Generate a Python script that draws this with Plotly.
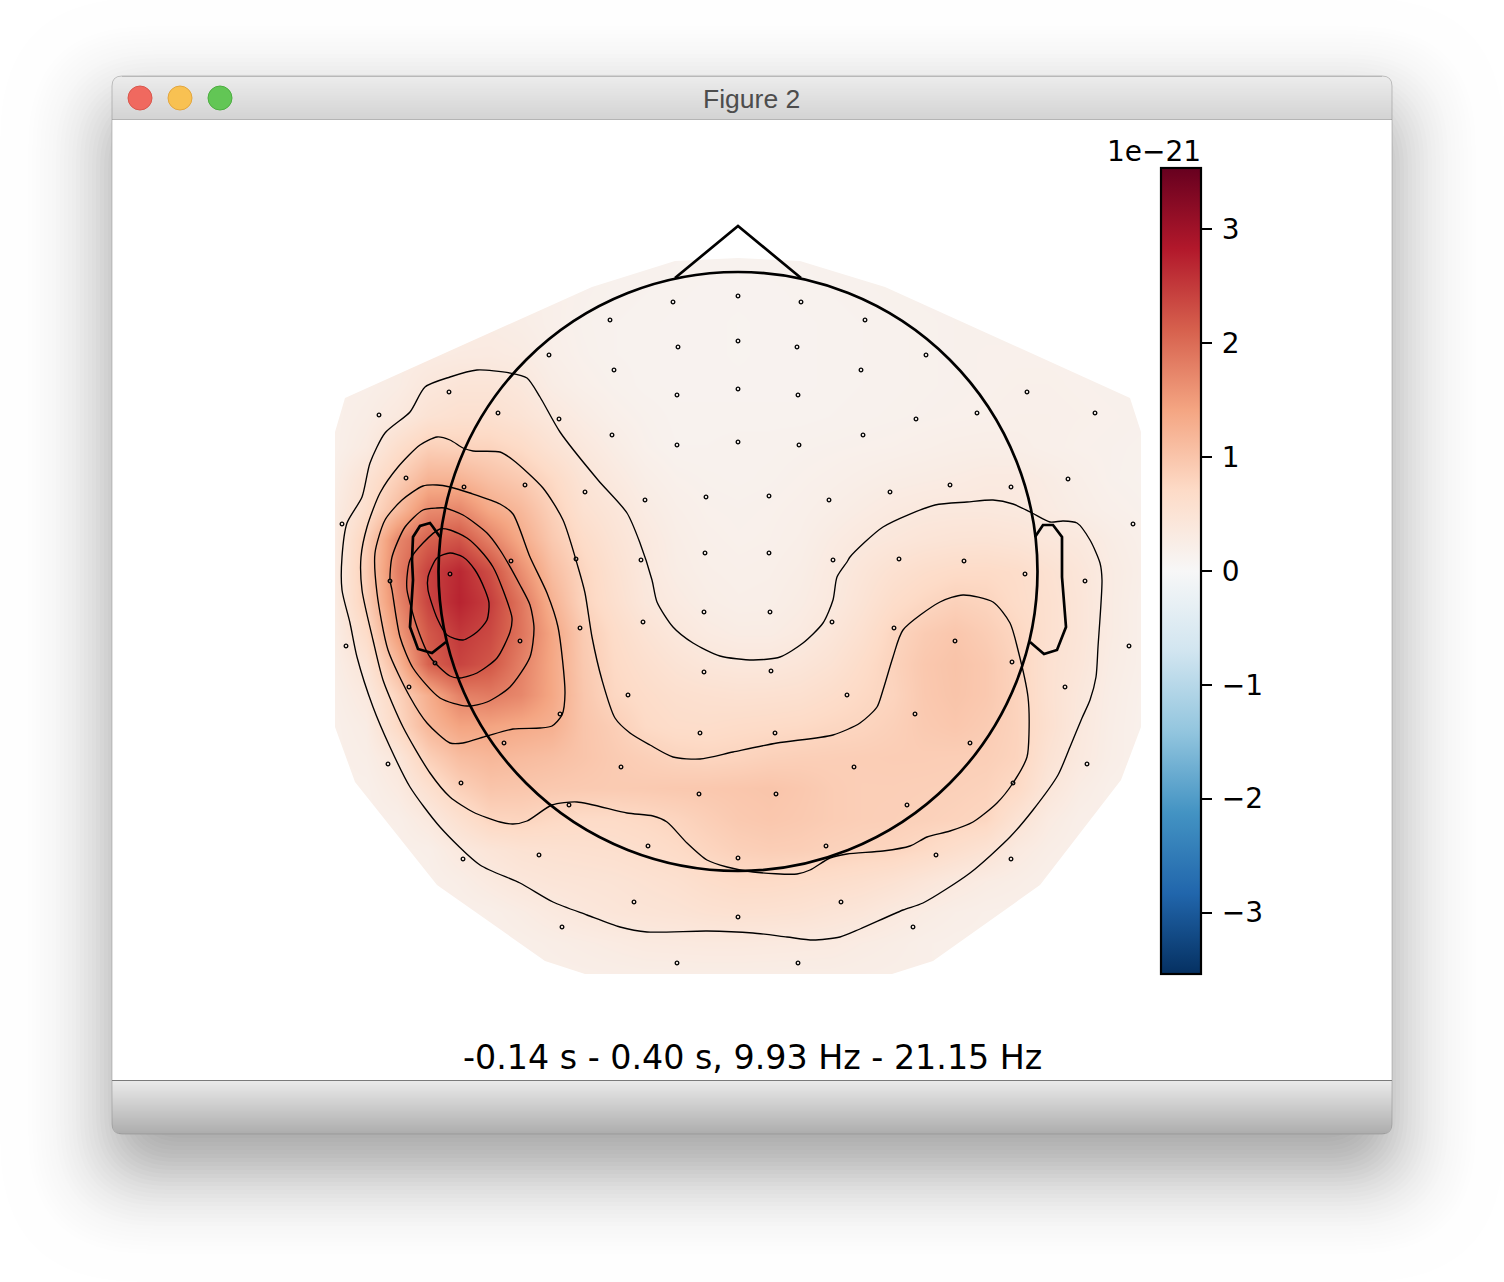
import math
import plotly.graph_objects as go

W, H = 1504, 1282

# ---- field values (units of 1e-21) on a regular grid
grid_x = [335,366,397,428,459,490,521,552,583,614,645,676,707,738,769,800,831,862,893,924,955,986,1017,1048,1079,1110,1141]
grid_y = [168,199,230,261,292,323,354,385,416,447,478,509,540,571,602,633,664,695,726,757,788,819,850,881,912,943,974]
z_rows = [
[.2,.2,.2,.2,.2,.2,.2,.2,.18,.16,.15,.14,.13,.13,.13,.14,.15,.16,.17,.17,.17,.17,.17,.17,.17,.17,.17],
[.2,.2,.2,.2,.2,.2,.2,.2,.18,.16,.15,.14,.13,.13,.13,.14,.15,.16,.17,.17,.17,.17,.17,.17,.17,.17,.17],
[.2,.2,.2,.2,.2,.2,.2,.2,.18,.16,.15,.14,.13,.13,.13,.14,.15,.16,.17,.17,.17,.17,.17,.17,.17,.17,.17],
[.2,.2,.22,.22,.22,.22,.22,.2,.18,.16,.15,.14,.13,.13,.13,.14,.15,.16,.17,.17,.17,.17,.17,.17,.17,.17,.17],
[.22,.22,.24,.24,.24,.24,.23,.2,.17,.15,.14,.13,.12,.12,.12,.13,.14,.15,.16,.17,.17,.17,.17,.17,.17,.17,.17],
[.23,.24,.26,.27,.28,.28,.25,.2,.16,.14,.13,.12,.12,.11,.12,.12,.13,.14,.15,.16,.17,.17,.17,.17,.17,.17,.17],
[.22,.25,.27,.3,.32,.33,.3,.22,.17,.14,.13,.12,.12,.11,.12,.12,.13,.14,.15,.16,.17,.18,.18,.18,.18,.17,.17],
[.2,.22,.28,.4,.47,.47,.4,.27,.2,.16,.13,.12,.12,.12,.12,.12,.13,.14,.15,.16,.17,.18,.19,.19,.18,.17,.17],
[.2,.26,.36,.52,.58,.58,.5,.38,.28,.2,.16,.13,.13,.13,.13,.13,.14,.15,.16,.17,.18,.19,.2,.2,.19,.18,.17],
[.2,.32,.62,.86,.82,.8,.7,.52,.38,.27,.18,.14,.14,.15,.15,.16,.17,.18,.19,.21,.23,.24,.23,.2,.18,.17,.16],
[.25,.52,.86,1.22,1.22,1.05,.92,.72,.48,.35,.24,.18,.16,.15,.16,.18,.2,.23,.26,.28,.3,.33,.33,.28,.22,.17,.15],
[.3,.62,1.1,1.68,1.72,1.35,1.15,.84,.56,.44,.3,.22,.18,.17,.18,.2,.24,.29,.34,.37,.38,.38,.36,.31,.25,.2,.17],
[.3,.85,1.72,2.12,2.25,1.8,1.35,.95,.68,.5,.36,.25,.2,.18,.19,.22,.3,.37,.42,.47,.5,.51,.48,.42,.37,.27,.2],
[.3,.9,1.8,2.42,2.68,2.3,1.65,1.1,.78,.56,.38,.27,.22,.2,.21,.25,.34,.45,.56,.64,.69,.7,.66,.55,.44,.3,.22],
[.3,.86,1.7,2.4,2.72,2.46,1.9,1.25,.8,.6,.41,.32,.25,.22,.23,.28,.36,.5,.66,.76,.84,.8,.68,.58,.46,.3,.2],
[.28,.68,1.5,2.2,2.52,2.35,1.92,1.4,.92,.68,.52,.4,.32,.28,.28,.33,.44,.58,.78,.91,.98,.89,.76,.58,.46,.3,.2],
[.25,.48,1.15,2.1,2.4,2.22,1.8,1.38,.95,.72,.6,.5,.43,.4,.4,.45,.53,.67,.82,.96,1.02,.95,.8,.56,.44,.28,.2],
[.22,.36,.8,1.3,1.78,1.85,1.72,1.38,.98,.76,.67,.6,.57,.55,.56,.58,.65,.73,.8,.95,1.01,.95,.81,.56,.4,.26,.18],
[.2,.28,.72,1.18,1.42,1.42,1.35,1.28,1.0,.88,.72,.66,.65,.68,.7,.72,.76,.79,.85,.93,.97,.91,.81,.58,.38,.25,.17],
[.2,.24,.42,.86,1.1,1.18,1.13,1.08,1.0,.92,.86,.8,.78,.8,.84,.86,.87,.88,.89,.89,.88,.87,.8,.52,.36,.24,.18],
[.2,.2,.32,.58,.85,1.0,.98,.95,.93,.92,.93,.95,.96,.98,1.0,.96,.9,.87,.87,.86,.85,.82,.72,.44,.28,.2,.18],
[.2,.2,.22,.36,.58,.78,.8,.74,.7,.7,.74,.79,.87,.94,.97,.94,.9,.87,.86,.84,.81,.77,.52,.32,.22,.2,.18],
[.2,.2,.2,.22,.36,.46,.53,.56,.58,.6,.64,.7,.78,.85,.88,.87,.83,.8,.79,.72,.62,.52,.34,.25,.2,.19,.18],
[.2,.2,.2,.2,.25,.34,.42,.46,.48,.5,.54,.58,.65,.7,.7,.67,.64,.6,.54,.45,.36,.29,.25,.2,.2,.19,.18],
[.2,.2,.2,.2,.2,.22,.28,.35,.41,.45,.48,.5,.54,.56,.55,.53,.48,.44,.36,.29,.24,.21,.2,.2,.2,.19,.18],
[.2,.2,.2,.2,.2,.2,.22,.25,.28,.31,.34,.35,.36,.36,.35,.34,.33,.29,.26,.22,.2,.2,.2,.2,.2,.19,.18],
[.2,.2,.2,.2,.2,.2,.21,.22,.23,.24,.25,.25,.25,.25,.25,.25,.25,.24,.23,.22,.2,.2,.2,.2,.2,.19,.18],
]

# ---- matplotlib RdBu_r stops
cmap_hex = ["#053061","#2166ac","#4393c3","#92c5de","#d1e5f0","#f7f7f7","#fddbc7","#f4a582","#d6604d","#b2182b","#67001f"]
z_limit = 3.54
cbar_ticks = [-3,-2,-1,0,1,2,3]
cbar_labels = ["\u2006\u22123","\u2006\u22122","\u2006\u22121","\u20060","\u20061","\u20062","\u20063"]

# ---- outline of the interpolated area
hull_x = [345,335,335,355,437,545,585,892,933,1040,1121,1141,1141,1130,885,800,738,675,592]
hull_y = [398,432,727,782,885,961,974,974,961,885,780,727,432,398,287,261,258,261,287]

# ---- sensors
sensor_x = [738,673,801,610,865,678,738,797,549,926,614,861,677,738,798,449,1027,379,498,559,916,977,1095,612,863,677,738,799,
            406,464,525,585,645,706,769,829,890,950,1011,1068,342,1133,705,769,576,641,833,899,964,511,450,1025,390,1085,
            704,770,643,832,580,894,520,955,346,1129,435,1012,704,771,409,1065,628,847,560,915,700,775,504,970,388,621,854,1087,
            461,1013,699,776,569,907,648,826,539,936,738,463,1011,634,841,738,562,913,677,798]
sensor_y = [296,302,302,320,320,347,341,347,355,355,370,370,395,389,395,392,392,415,413,419,419,413,413,435,435,445,442,445,
            478,487,485,492,500,497,496,500,492,485,487,479,524,524,553,553,559,560,560,559,561,561,574,574,581,581,
            612,612,622,622,628,628,641,641,646,646,663,662,672,671,687,687,695,695,714,714,733,733,743,743,764,767,767,764,
            783,783,794,794,805,805,846,846,855,855,858,859,859,902,902,917,927,927,963,963]

# ---- contour lines
contour_1a_x = [510,477,450,425,410,385,370,362,347,342,342,350,357,373,390,410,440,480,520,553,587,620,647,707,753,787,813,840,860,903,923,970,1010,1033,1058,1070,1082,1090,1096,1098,1102,1100,1090,1077,1063,1050,1032,1013,993,967,935,883,850,847,837,833,823,803,780,753,720,693,673,657,652,640,627,598,560,540,527,510]
contour_1a_y = [373,370,377,387,412,433,463,497,523,557,590,623,657,707,747,787,827,865,883,902,915,927,932,931,933,937,940,937,929,910,903,873,837,810,775,747,718,700,677,647,580,563,540,523,521,522,513,504,500,502,505,527,557,562,577,600,623,643,657,660,656,643,627,602,580,543,513,480,432,397,378,373]
contour_1b_x = [437,450,463,473,500,513,543,563,578,585,592,602,615,630,650,673,700,733,777,833,860,877,883,893,903,940,963,993,1010,1018,1028,1029,1027,1013,997,973,950,927,910,883,847,830,810,797,753,727,707,687,667,653,627,577,552,527,513,500,473,450,430,403,383,373,362,361,367,380,398,420,437]
contour_1b_y = [437,440,448,451,452,460,488,520,567,593,637,680,718,733,745,757,759,752,743,735,723,707,690,657,630,602,595,602,623,650,697,733,757,783,803,822,831,837,846,851,854,858,870,874,872,867,860,843,822,816,813,802,805,821,824,822,812,797,773,727,680,640,590,557,527,493,467,445,437]
contour_2_x = [437,450,470,500,513,530,547,558,565,562,552,540,513,487,463,450,427,410,388,377,375,385,402,423,437]
contour_2_y = [485,487,493,504,514,557,593,627,693,715,726,728,729,736,743,743,723,697,650,593,553,520,500,486,485]
contour_3_x = [437,445,463,487,500,520,530,534,530,510,487,467,440,413,400,392,390,392,405,423,437]
contour_3_y = [508,508,515,533,550,585,605,628,657,687,702,706,698,668,637,590,580,557,527,510,508]
contour_4_x = [440,450,467,480,493,503,512,510,497,477,460,450,430,417,407,407,410,423,440]
contour_4_y = [529,530,538,550,567,590,618,632,658,673,678,676,657,627,590,577,560,543,529]
contour_5_x = [450,463,475,485,489,487,477,463,447,437,428,428,437,450]
contour_5_y = [553,557,570,590,603,620,632,640,635,618,590,577,558,553]

# ---- head outline
head_center = (738, 571.5)
head_radius = 299.5
nose_x = [675,738,801]
nose_y = [278,226,278]
ear_left_x = [440,433,430,420,413,412,413,410,418,432,446]
ear_left_y = [537,527,523,526,537,560,580,627,649,653,642]
ear_right_x = [1035,1043,1053,1062,1062,1066,1057,1044,1030]
ear_right_y = [537,525,525,537,577,627,650,654,642]

fig = go.Figure()

def px(x): return x / W
def py(y): return 1 - y / H

def round_rect(x0, y0, x1, y1, r):
    return (f"M{px(x0+r)},{py(y0)} L{px(x1-r)},{py(y0)} Q{px(x1)},{py(y0)} {px(x1)},{py(y0+r)} "
            f"L{px(x1)},{py(y1-r)} Q{px(x1)},{py(y1)} {px(x1-r)},{py(y1)} L{px(x0+r)},{py(y1)} "
            f"Q{px(x0)},{py(y1)} {px(x0)},{py(y1-r)} L{px(x0)},{py(y0+r)} Q{px(x0)},{py(y0)} {px(x0+r)},{py(y0)} Z")

shapes = []

# window shadow (stacked translucent rounded rectangles)
prev = 0.0
sx0, sy0, sx1, sy1 = 112, 110, 1392, 1170
for d in range(112, -113, -4):
    t = 0.38 * 0.5 * (1 - math.erf(d / (44 * math.sqrt(2))))
    a = 1 - (1 - t) / (1 - prev)
    prev = t
    shapes.append(dict(type="path", xref="paper", yref="paper", layer="below", line_width=0,
                       path=round_rect(sx0-d, sy0-d, sx1+d, sy1+d, max(12, 60+d*0.7)),
                       fillcolor=f"rgba(0,0,0,{a:.5f})"))

def band(y0, y1, col, inset=0):
    shapes.append(dict(type="rect", xref="paper", yref="paper", layer="below", line_width=0,
                       x0=px(112+inset), x1=px(1392-inset), y0=py(y0), y1=py(y1), fillcolor=col))

def lerp(a, b, f): return int(round(a + (b - a) * f))

R = 10
def corner_inset(dist):
    if dist >= R: return 0
    return R - math.sqrt(max(R*R - (R-dist-0.5)**2, 0))

# title bar gradient
for y in range(76, 119):
    v = lerp(236, 211, (y-76)/43)
    band(y, y+1, f"rgb({v},{v},{v})", corner_inset(y-76))
band(76, 77, "#c8c8c8", R)
band(119, 120, "#b4b4b4")
band(120, 1080, "#ffffff")
band(1080, 1081, "#7a7a7a")
# bottom bar gradient
for y in range(1081, 1134):
    v = lerp(233, 172, (y-1081)/53)
    band(y, y+1, f"rgb({v},{v},{v})", corner_inset(1133-y))
# side / bottom hairlines
shapes.append(dict(type="path", xref="paper", yref="paper", layer="below",
                   line=dict(color="rgba(130,130,130,0.45)", width=1),
                   path=round_rect(112, 76, 1392, 1134, R), fillcolor="rgba(0,0,0,0)"))
# traffic lights
for cx, fill, edge in [(140,"#f0695f","#d9574d"),(180,"#f8c152","#e3a63e"),(220,"#62c655","#4cae40")]:
    shapes.append(dict(type="circle", xref="paper", yref="paper", layer="below",
                       x0=px(cx-12), x1=px(cx+12), y0=py(98-12), y1=py(98+12),
                       fillcolor=fill, line=dict(color=edge, width=1)))

# white mask outside the hull (drawn through the data axes)
hull_path = "M" + " L".join(f"{x},{y}" for x, y in zip(hull_x, hull_y)) + " Z"
mask_path = "M325,158 L1151,158 L1151,984 L325,984 Z " + hull_path
shapes.append(dict(type="path", xref="x", yref="y", layer="above", line_width=0,
                   path=mask_path, fillcolor="#ffffff", fillrule="evenodd"))
# head outline
head_line = dict(color="black", width=2.7)
shapes.append(dict(type="circle", xref="x", yref="y", layer="above", line=head_line,
                   x0=head_center[0]-head_radius, x1=head_center[0]+head_radius,
                   y0=head_center[1]-head_radius, y1=head_center[1]+head_radius))
shapes.append(dict(type="path", xref="x", yref="y", layer="above", line=head_line,
                   path="M" + " L".join(f"{x},{y}" for x, y in zip(nose_x, nose_y))))
shapes.append(dict(type="path", xref="x", yref="y", layer="above", line=head_line,
                   path="M" + " L".join(f"{x},{y}" for x, y in zip(ear_left_x, ear_left_y))))
shapes.append(dict(type="path", xref="x", yref="y", layer="above", line=head_line,
                   path="M" + " L".join(f"{x},{y}" for x, y in zip(ear_right_x, ear_right_y))))

n = len(cmap_hex) - 1
fig.add_trace(go.Heatmap(
    x=grid_x, y=grid_y, z=z_rows, zmin=-z_limit, zmax=z_limit, zsmooth="best",
    colorscale=[[i/n, c] for i, c in enumerate(cmap_hex)], hoverinfo="skip",
    colorbar=dict(
        x=px(1161), xanchor="left", xpad=0, y=py(168), yanchor="top", ypad=0,
        len=806/H, lenmode="fraction", thickness=40, thicknessmode="pixels",
        outlinecolor="black", outlinewidth=2.2, borderwidth=0, bgcolor="rgba(0,0,0,0)",
        tickmode="array", tickvals=cbar_ticks, ticktext=cbar_labels,
        ticks="outside", ticklen=10, tickwidth=2, tickcolor="black",
        tickfont=dict(family="DejaVu Sans", size=28, color="black"),
    ),
))

for cx_, cy_ in [(contour_1a_x, contour_1a_y), (contour_1b_x, contour_1b_y), (contour_2_x, contour_2_y),
                 (contour_3_x, contour_3_y), (contour_4_x, contour_4_y), (contour_5_x, contour_5_y)]:
    fig.add_trace(go.Scatter(x=cx_, y=cy_, mode="lines", hoverinfo="skip", showlegend=False,
                             line=dict(color="black", width=1.35, shape="spline", smoothing=0.7)))

fig.add_trace(go.Scatter(x=sensor_x, y=sensor_y, mode="markers", hoverinfo="skip", showlegend=False,
                         marker=dict(size=3.6, color="rgba(255,255,255,0.2)", line=dict(color="black", width=1.3))))

fig.update_layout(
    width=W, height=H, margin=dict(l=0, r=0, t=0, b=0), autosize=False,
    paper_bgcolor="white", plot_bgcolor="rgba(0,0,0,0)", showlegend=False,
    xaxis=dict(domain=[px(335), px(1141)], range=[335, 1141], visible=False, fixedrange=True),
    yaxis=dict(domain=[py(974), py(168)], range=[974, 168], visible=False, fixedrange=True),
    shapes=shapes,
    annotations=[
        dict(xref="paper", yref="paper", x=px(751), y=py(99), text="Figure 2", showarrow=False,
             font=dict(family="Liberation Sans", size=26.5, color="#4d4d4d"), xanchor="center", yanchor="middle"),
        dict(xref="paper", yref="paper", x=px(1203), y=py(151), text="1e\u221221", showarrow=False,
             font=dict(family="DejaVu Sans", size=28, color="black"), xanchor="right", yanchor="middle"),
        dict(xref="paper", yref="paper", x=px(752), y=py(1057), text="-0.14 s - 0.40 s, 9.93 Hz - 21.15 Hz", showarrow=False,
             font=dict(family="DejaVu Sans", size=33.3, color="black"), xanchor="center", yanchor="middle"),
    ],
)
fig.write_html("out.html", config=dict(displayModeBar=False),
               post_script="document.body.style.margin='0';document.body.style.overflow='hidden';")
